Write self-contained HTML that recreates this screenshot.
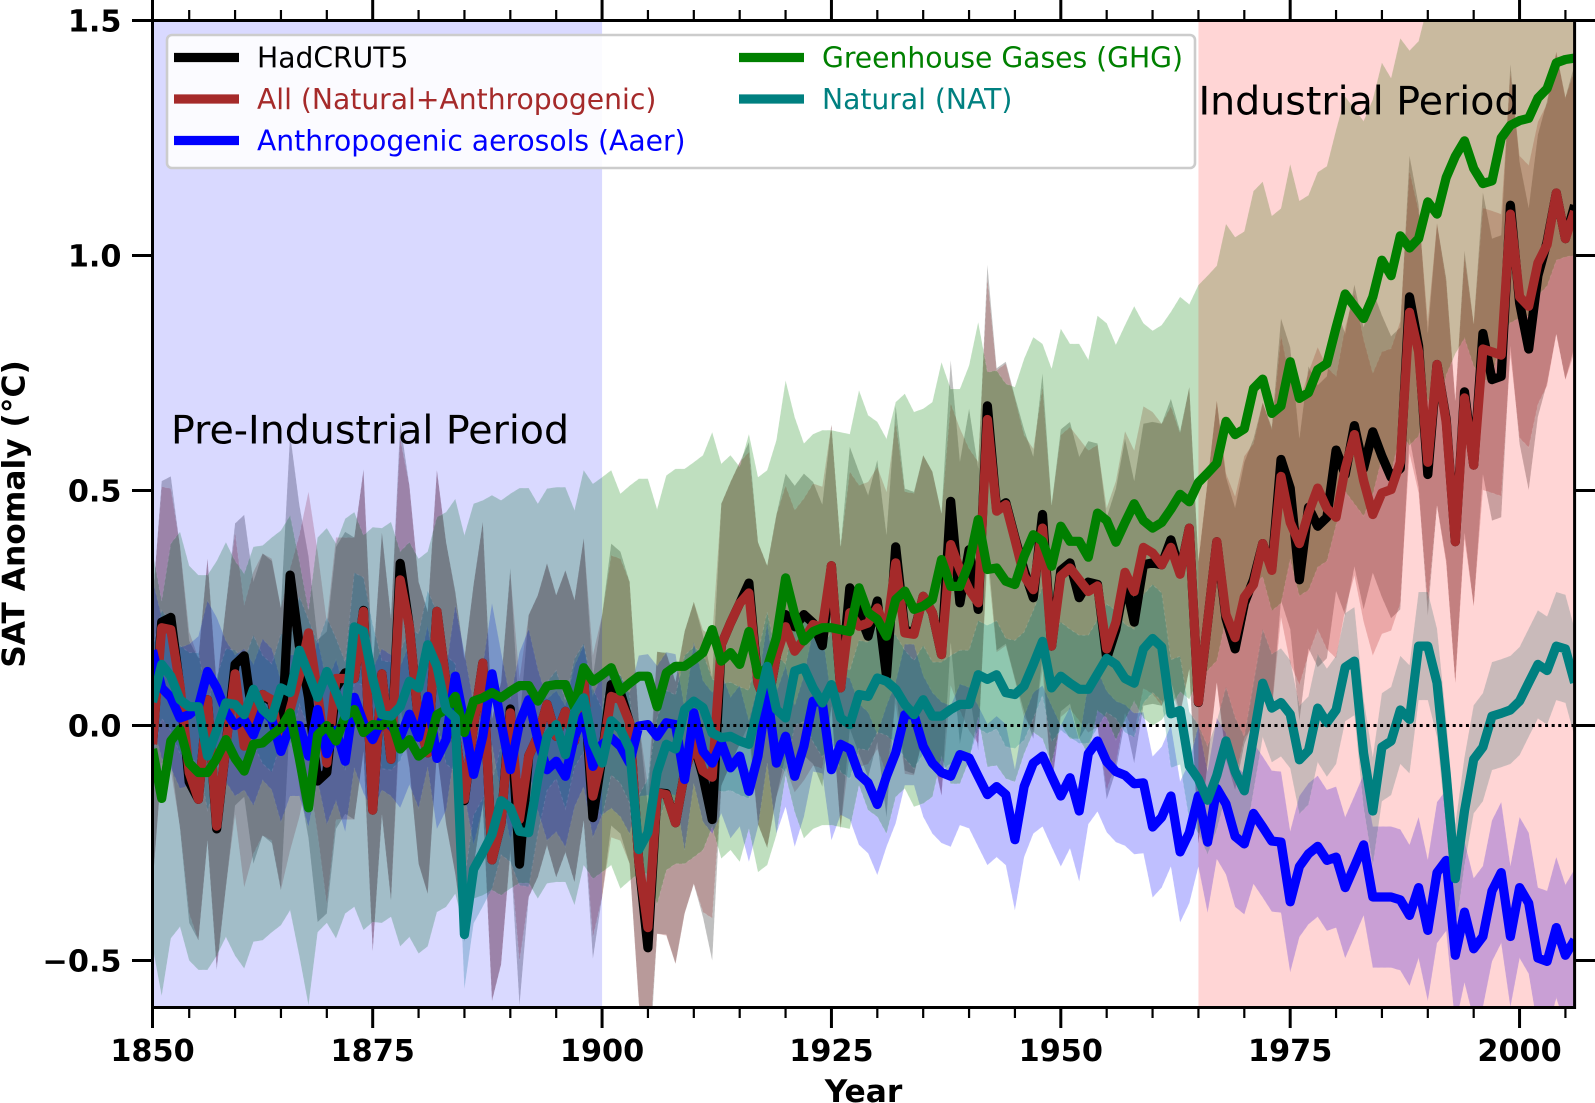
<!DOCTYPE html>
<html lang="en">
<head>
<meta charset="utf-8">
<title>SAT Anomaly</title>
<style>
html,body{margin:0;padding:0;background:#fff;}
svg{display:block;font-family:"DejaVu Sans",sans-serif;}
</style>
</head>
<body>
<svg id="chart" xmlns="http://www.w3.org/2000/svg" width="1595" height="1103" viewBox="0 0 1595 1103">
  <defs><clipPath id="plot-clip"><rect x="152.5" y="20.5" width="1422.1" height="987"/></clipPath></defs>
  <g id="bands" clip-path="url(#plot-clip)"></g>
  <g id="spans" clip-path="url(#plot-clip)"></g>
  <g id="lines" clip-path="url(#plot-clip)"></g>
  <g id="zero"></g>
  <text x="171" y="443.5" font-size="39.5" fill="#000">Pre-Industrial Period</text>
  <text x="1198.5" y="114.5" font-size="39.5" fill="#000">Industrial Period</text>
  <g>
    <rect x="167" y="35" width="1028" height="133" rx="5" ry="5" fill="#fff" fill-opacity="0.88" stroke="#ccc" stroke-width="2.6"/>
    <g>
      <line x1="174" x2="239" y1="57.5" y2="57.5" stroke="#000" stroke-width="9.2"/>
      <text x="257" y="67.5" font-size="28.2" fill="#000">HadCRUT5</text>
    </g>
    <g>
      <line x1="174" x2="239" y1="99" y2="99" stroke="#a52a2a" stroke-width="9.2"/>
      <text x="257" y="109" font-size="28.2" fill="#a52a2a">All (Natural+Anthropogenic)</text>
    </g>
    <g>
      <line x1="174" x2="239" y1="140.5" y2="140.5" stroke="#0000ff" stroke-width="9.2"/>
      <text x="257" y="150.5" font-size="28.2" fill="#0000ff">Anthropogenic aerosols (Aaer)</text>
    </g>
    <g>
      <line x1="739" x2="804" y1="57.5" y2="57.5" stroke="#008000" stroke-width="9.2"/>
      <text x="822" y="67.5" font-size="28.2" fill="#008000">Greenhouse Gases (GHG)</text>
    </g>
    <g>
      <line x1="739" x2="804" y1="99" y2="99" stroke="#008080" stroke-width="9.2"/>
      <text x="822" y="109" font-size="28.2" fill="#008080">Natural (NAT)</text>
    </g>
  </g>
  <g id="axes"></g>
  <text x="863.5" y="1102" font-size="31.3" font-weight="bold" text-anchor="middle">Year</text>
  <text transform="translate(24.5,514) rotate(-90)" font-size="31.3" font-weight="bold" text-anchor="middle">SAT Anomaly (°C)</text>
</svg>
<script>
const startYear = 1851;
const hadcrut5 = [
-.04,.22,.23,.08,-.12,-.157,.055,-.22,-.044,.13,
.148,.006,.066,.05,-.05,.32,.17,.06,-.118,-.1,
.08,.112,.1,.245,-.18,.11,-.072,.345,.21,.006,
-.058,.243,.09,-.016,-.16,0,.133,-.286,-.208,.035,
-.295,-.065,-.023,.045,-.023,.03,-.033,.098,-.196,-.065,
.087,.07,.006,-.29,-.473,-.143,-.145,-.207,-.1,-.037,
-.108,-.2,.172,.218,.26,.303,.09,.04,.148,.236,
.21,.236,.218,.17,.34,.08,.293,.24,.19,.265,
.105,.38,.204,.197,.275,.24,.151,.477,.261,.374,
.247,.68,.46,.474,.40,.33,.272,.449,.169,.33,
.346,.272,.305,.30,.143,.204,.31,.22,.342,.346,
.342,.395,.326,.42,.049,.22,.391,.228,.163,.26,
.31,.387,.334,.566,.505,.31,.464,.424,.443,.586,
.534,.638,.547,.625,.573,.528,.547,.912,.808,.534,
.768,.651,.391,.71,.554,.834,.736,.743,1.107,.899,
.801,.957,1.029,1.133,1.036,1.107];
const allForcing = [
-.04,.208,.204,.084,-.1,-.157,.055,-.214,-.044,.11,
-.044,.027,.066,.055,-.05,.034,.105,.197,.07,-.08,
.1,.1,.1,.243,-.18,.11,-.072,.31,.21,.006,
-.058,.243,.09,-.016,-.157,0,.133,-.286,-.208,.027,
-.2,-.065,-.023,.045,-.023,.03,-.033,.098,-.15,-.065,
.062,.055,.006,-.29,-.43,-.143,-.147,-.207,-.1,-.037,
-.097,-.11,.172,.218,.26,.282,.09,.04,.148,.21,
.158,.183,.215,.208,.34,.08,.24,.211,.218,.25,
.197,.346,.197,.194,.275,.24,.151,.385,.332,.289,
.261,.651,.456,.47,.396,.318,.289,.42,.169,.318,
.335,.31,.285,.297,.163,.22,.326,.285,.379,.367,
.342,.379,.322,.42,.05,.22,.391,.236,.187,.273,
.3,.387,.33,.53,.432,.387,.452,.505,.462,.443,
.547,.619,.521,.449,.495,.502,.56,.879,.795,.56,
.768,.645,.391,.697,.554,.801,.795,.788,1.088,.912,
.892,.984,1.023,1.133,1.036,1.094];
const aerosols = [
.16,.08,.06,.016,.023,.04,.115,.08,.03,0,
.013,-.02,.034,.013,-.055,0,0,-.065,.034,-.06,
-.01,-.076,.06,.006,-.03,.013,0,-.025,.024,-.025,
.062,-.07,-.03,.105,.006,-.104,-.023,.11,.006,-.094,
.006,.055,-.03,-.094,-.076,-.108,-.023,.02,-.087,-.04,
-.026,-.044,-.08,-.001,.002,-.023,.006,.002,-.115,.027,
-.055,-.08,-.037,-.09,-.065,-.14,-.065,.07,-.08,-.023,
-.108,-.044,.052,.048,-.094,-.04,-.05,-.104,-.122,-.168,
-.108,-.058,.023,.023,-.044,-.08,-.1,-.108,-.062,-.069,
-.108,-.147,-.13,-.147,-.243,-.13,-.08,-.065,-.108,-.15,
-.111,-.182,-.06,-.033,-.077,-.098,-.106,-.124,-.122,-.216,
-.195,-.15,-.269,-.228,-.15,-.248,-.134,-.167,-.236,-.252,
-.187,-.216,-.246,-.248,-.375,-.3,-.273,-.257,-.287,-.28,
-.345,-.3,-.254,-.365,-.365,-.365,-.371,-.404,-.345,-.436,
-.313,-.287,-.489,-.397,-.475,-.449,-.352,-.313,-.449,-.345,
-.378,-.495,-.502,-.43,-.489,-.456];
const greenhouse = [
-.05,-.155,-.033,-.008,-.08,-.1,-.1,-.07,-.03,-.07,
-.097,-.04,-.037,-.02,-.005,.027,-.07,-.175,-.02,0,
-.033,.02,.034,-.015,.002,0,.013,-.05,-.03,-.065,
-.05,.023,.034,.062,-.015,.052,.059,.07,.059,.073,
.085,.085,.052,.084,.087,.087,.038,.123,.094,.108,
.123,.073,.09,.105,.105,.04,.112,.126,.126,.14,
.155,.204,.137,.155,.13,.2,.108,.123,.187,.314,
.236,.18,.2,.208,.208,.204,.2,.293,.24,.226,
.19,.268,.286,.247,.254,.268,.353,.296,.296,.346,
.438,.332,.335,.307,.3,.36,.406,.392,.339,.424,
.392,.392,.358,.452,.436,.39,.432,.472,.436,.42,
.432,.46,.492,.476,.517,.537,.558,.647,.619,.631,
.717,.737,.664,.68,.774,.696,.708,.757,.77,.847,
.918,.892,.866,.912,.99,.957,1.042,1.016,1.036,1.114,
1.088,1.166,1.211,1.244,1.185,1.153,1.159,1.25,1.277,1.287,
1.292,1.335,1.355,1.41,1.417,1.42];
const natural = [
.05,.13,.105,.055,.04,.04,-.065,-.01,.048,.045,
.023,.077,.034,.016,.08,.07,.16,.11,.06,.115,
.07,.02,.21,.2,.1,.023,.02,.04,.094,.08,
.172,.126,.034,.016,-.445,-.306,-.27,-.232,-.16,-.175,
-.225,-.228,-.115,-.023,.002,-.062,.027,.059,-.037,-.08,
.01,-.008,-.05,-.264,-.228,-.1,-.04,-.05,.034,.052,
.038,-.016,-.026,-.023,-.033,-.04,.04,.126,.034,.016,
.116,.123,.08,.048,.087,.016,.002,.066,.062,.101,
.094,.077,.045,.023,.055,.02,.02,.034,.045,.045,
.108,.098,.108,.07,.066,.084,.13,.179,.08,.105,
.09,.077,.077,.11,.143,.13,.1,.09,.163,.185,
.167,.025,.032,-.086,-.114,-.159,-.106,-.033,-.098,-.139,
-.025,.09,.037,.049,.024,-.073,-.053,.037,.006,.033,
.124,.137,-.059,-.182,-.046,-.033,.033,.013,.169,.169,
.091,-.104,-.326,-.182,-.072,-.046,.02,.026,.033,.052,
.091,.13,.117,.169,.163,.091];
const hadcrutSpread = 0.3;
const allSpread = 0.3;
const aerosolSpread = 0.15;
const greenhouseSpread = 0.42;
const naturalSpread = 0.115;
const xTickYears = [1851,1875,1900,1925,1950,1975,2000];
const xTickLabels = ["1850","1875","1900","1925","1950","1975","2000"];
const xMinorYears = [1855,1860,1865,1870,1880,1885,1890,1895,1905,1910,1915,1920,1930,1935,1940,1945,1955,1960,1965,1970,1980,1985,1990,1995,2005];
const yTickValues = [-0.5,0,0.5,1,1.5];
const yTickLabels = ["\u22120.5","0.0","0.5","1.0","1.5"];
const preIndustrialSpan = [1851,1900];
const industrialSpan = [1965,2006];

const NS = 'http://www.w3.org/2000/svg';
const plotLeft = 152.5, plotRight = 1574.6, plotTop = 20.5, plotBottom = 1007.5;
const xDomain = [1851,2006], yDomain = [-0.6,1.5];
function xAxis(year){ return plotLeft + (year - xDomain[0]) * (plotRight - plotLeft) / (xDomain[1] - xDomain[0]); }
function yAxis(v){ return plotBottom - (v - yDomain[0]) * (plotBottom - plotTop) / (yDomain[1] - yDomain[0]); }
function make(tag, attrs, parent){
  const el = document.createElementNS(NS, tag);
  for (const k in attrs) el.setAttribute(k, attrs[k]);
  parent.appendChild(el);
  return el;
}
const spansG = document.getElementById('spans');
const bandsG = document.getElementById('bands');
const linesG = document.getElementById('lines');
const zeroG = document.getElementById('zero');
const axesG = document.getElementById('axes');

const preRect = make('rect', {x:xAxis(preIndustrialSpan[0]), y:plotTop, width:xAxis(preIndustrialSpan[1])-xAxis(preIndustrialSpan[0]), height:plotBottom-plotTop, fill:'#0000ff', 'fill-opacity':0.15}, spansG);


const indRect = make('rect', {x:xAxis(industrialSpan[0]), y:plotTop, width:xAxis(industrialSpan[1])-xAxis(industrialSpan[0]), height:plotBottom-plotTop, fill:'#ff0000', 'fill-opacity':0.165}, spansG);



const drawOrder = [
  {key:'hadcrut5', values:hadcrut5, spread:hadcrutSpread, color:'#000000'},
  {key:'all-forcing', values:allForcing, spread:allSpread, color:'#a52a2a'},
  {key:'aerosols', values:aerosols, spread:aerosolSpread, color:'#0000ff'},
  {key:'greenhouse', values:greenhouse, spread:greenhouseSpread, color:'#008000'},
  {key:'natural', values:natural, spread:naturalSpread, color:'#008080'}
];
drawOrder.forEach(function(s){
  const upper = s.values.map(function(v,i){ return xAxis(startYear+i).toFixed(1)+','+yAxis(v+s.spread).toFixed(1); });
  const lower = s.values.map(function(v,i){ return xAxis(startYear+i).toFixed(1)+','+yAxis(v-s.spread).toFixed(1); }).reverse();
  const band = make('polygon', {points:upper.concat(lower).join(' '), fill:s.color, 'fill-opacity':0.25, stroke:'#fff', 'stroke-opacity':0.14, 'stroke-width':1, 'stroke-dasharray':'3 3'}, bandsG);
  
  
});
drawOrder.forEach(function(s){
  const pts = s.values.map(function(v,i){ return xAxis(startYear+i).toFixed(1)+','+yAxis(v).toFixed(1); }).join(' ');
  const line = make('polyline', {points:pts, fill:'none', stroke:s.color, 'stroke-width':9.2, 'stroke-linejoin':'round', 'stroke-linecap':'butt'}, linesG);
  
  
});
const zeroLine = make('line', {x1:plotLeft, x2:plotRight, y1:yAxis(0), y2:yAxis(0), stroke:'#000', 'stroke-width':3, 'stroke-dasharray':'3 3.6'}, zeroG);



xTickYears.forEach(function(y,i){
  const x = xAxis(y);
  const b = make('line', {x1:x, x2:x, y1:plotBottom, y2:plotBottom+20.5, stroke:'#000', 'stroke-width':3}, axesG);
  
  
  const t = make('line', {x1:x, x2:x, y1:plotTop, y2:plotTop-20.5, stroke:'#000', 'stroke-width':3}, axesG);
  
  
  const lab = make('text', {x:x, y:1061, 'font-size':30.3, 'font-weight':'bold', 'text-anchor':'middle'}, axesG);
  
  
  lab.textContent = xTickLabels[i];
});
xMinorYears.forEach(function(y){
  const x = xAxis(y);
  const b = make('line', {x1:x, x2:x, y1:plotBottom, y2:plotBottom+10.5, stroke:'#000', 'stroke-width':2.2}, axesG);
  
  
  const t = make('line', {x1:x, x2:x, y1:plotTop, y2:plotTop-10.5, stroke:'#000', 'stroke-width':2.2}, axesG);
  
  
});
yTickValues.forEach(function(v,i){
  const y = yAxis(v);
  const l = make('line', {x1:plotLeft-20.5, x2:plotLeft, y1:y, y2:y, stroke:'#000', 'stroke-width':3}, axesG);
  
  
  const r = make('line', {x1:plotRight, x2:plotRight+20.5, y1:y, y2:y, stroke:'#000', 'stroke-width':3}, axesG);
  
  
  const lab = make('text', {x:121.5, y:y+11, 'font-size':30.3, 'font-weight':'bold', 'text-anchor':'end'}, axesG);
  
  
  lab.textContent = yTickLabels[i];
});
const frame = make('rect', {x:plotLeft, y:plotTop, width:plotRight-plotLeft, height:plotBottom-plotTop, fill:'none', stroke:'#000', 'stroke-width':3}, axesG);


</script>
</body>
</html>
